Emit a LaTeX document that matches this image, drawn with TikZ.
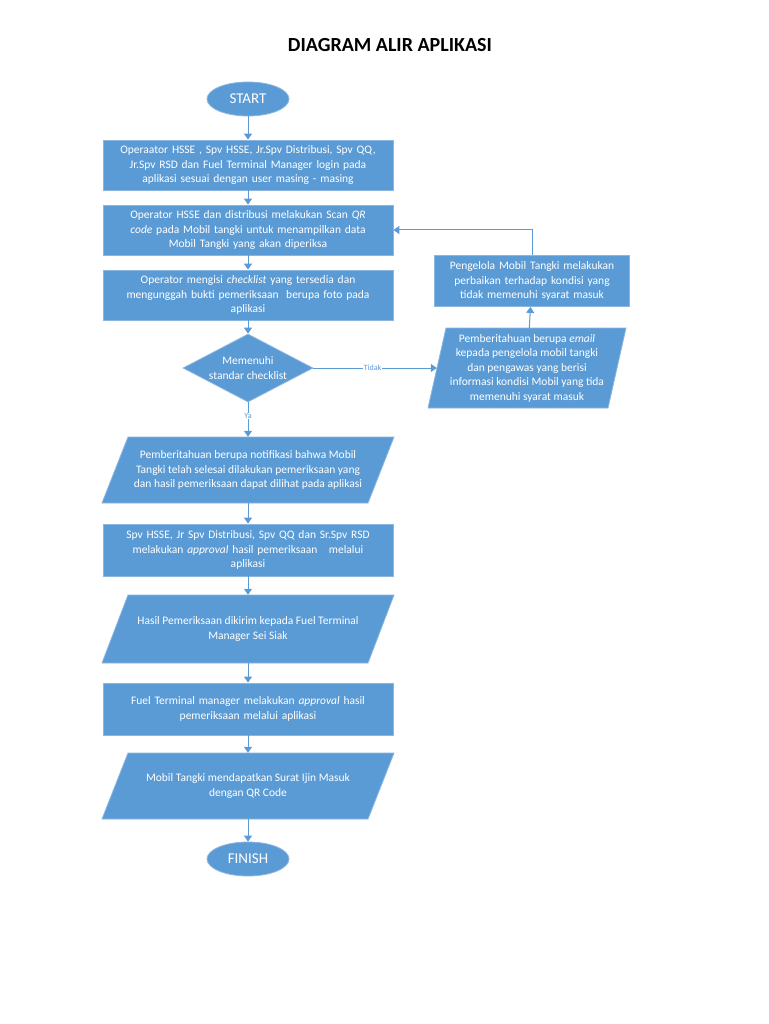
\documentclass[tikz,border=0pt]{standalone}
\usepackage{fontspec}
\setmainfont{Carlito}
\usetikzlibrary{shapes.geometric,arrows.meta}
\definecolor{bfill}{HTML}{5B9BD5}
\definecolor{bline}{HTML}{8CB6E2}
\definecolor{arr}{HTML}{5B9BD5}
\tikzset{x=1pt,y=-1pt,
 base/.style={fill=bfill,draw=bline,line width=0.8pt,text=white,font=\fontsize{11.5}{14.5}\selectfont,align=center},
 proc/.style={base,rectangle,minimum width=290pt,minimum height=50pt,text width=285pt,inner sep=1pt},
 term/.style={base,ellipse,minimum width=82pt,minimum height=34pt,font=\fontsize{15}{17}\selectfont},
 dec/.style={base,diamond,aspect=1.9,minimum width=130pt,minimum height=68pt,inner sep=0pt},
 ptext/.style={text=white,font=\fontsize{11.5}{14.5}\selectfont,align=center,inner sep=0pt},
 con/.style={draw=arr,line width=1pt,-{Triangle[length=6pt,width=8pt]}},
 lbl/.style={font=\fontsize{8}{9}\selectfont,text=arr,fill=white,inner sep=0.5pt}}
% name, cx, cy, halfwidth, halfheight, halfslant, text
\newcommand{\mypara}[7]{%
 \filldraw[fill=bfill,draw=bline,line width=0.8pt] (#2-#4+#6,#3-#5) -- (#2+#4+#6,#3-#5) -- (#2+#4-#6,#3+#5) -- (#2-#4-#6,#3+#5) -- cycle;
 \node[ptext,minimum width=2*#4,minimum height=2*#5] (#1) at (#2,#3) {#7};}
\begin{document}
\begin{tikzpicture}
\useasboundingbox (0,0) rectangle (768,1024);
\fill[white] (0,0) rectangle (768,1024);
\node[font=\bfseries\fontsize{20}{22}\selectfont] (title) at (390,45) {DIAGRAM ALIR APLIKASI};
\node[term] (start) at (248,99) {START};
\node[proc] (b1) at (248,165) {Operaator HSSE , Spv HSSE, Jr.Spv Distribusi, Spv QQ,\\ Jr.Spv RSD dan Fuel Terminal Manager login pada\\ aplikasi sesuai dengan user masing - masing};
\node[proc] (b2) at (248,230) {Operator HSSE dan distribusi melakukan Scan \textit{QR}\\ \textit{code} pada Mobil tangki untuk menampilkan data\\ Mobil Tangki yang akan diperiksa};
\node[proc] (b3) at (248,295) {Operator mengisi \textit{checklist} yang tersedia dan\\ mengunggah bukti pemeriksaan\ \ berupa foto pada\\ aplikasi};
\node[dec] (d) at (248,368) {Memenuhi\\ standar checklist};
\mypara{em}{527}{368}{90}{40}{9}{Pemberitahuan berupa \textit{email}\\ kepada pengelola mobil tangki\\ dan pengawas yang berisi\\ informasi kondisi Mobil yang tida\\ memenuhi syarat masuk}
\node[proc,minimum width=195pt,text width=192pt,minimum height=51pt] (rb) at (532,281) {Pengelola Mobil Tangki melakukan\\ perbaikan terhadap kondisi yang\\ tidak memenuhi syarat masuk};
\mypara{p1}{248}{470}{133}{33}{13}{Pemberitahuan berupa notifikasi bahwa Mobil\\ Tangki telah selesai dilakukan pemeriksaan yang\\ dan hasil pemeriksaan dapat dilihat pada aplikasi}
\node[proc,minimum height=52pt] (b4) at (248,550) {Spv HSSE, Jr Spv Distribusi, Spv QQ dan Sr.Spv RSD\\ melakukan \textit{approval} hasil pemeriksaan\ \ \ melalui\\ aplikasi};
\mypara{p2}{248}{629}{133}{34}{13}{Hasil Pemeriksaan dikirim kepada Fuel Terminal\\ Manager Sei Siak}
\node[proc,minimum height=52pt] (b5) at (248,709) {Fuel Terminal manager melakukan \textit{approval} hasil\\ pemeriksaan melalui aplikasi};
\mypara{p3}{248}{786}{133}{33}{13}{Mobil Tangki mendapatkan Surat Ijin Masuk\\ dengan QR Code}
\node[term] (fin) at (248,859) {FINISH};
\draw[con] (start) -- (b1);
\draw[con] (b1) -- (b2);
\draw[con] (b2) -- (b3);
\draw[con] (b3) -- (d);
\draw[con] (d) -- node[lbl,pos=0.48]{Tidak} (em);
\draw[con] (em) -- (rb);
\draw[con] (rb.north) |- (b2.east);
\draw[con] (d) -- node[lbl,pos=0.4]{Ya} (p1);
\draw[con] (p1) -- (b4);
\draw[con] (b4) -- (p2);
\draw[con] (p2) -- (b5);
\draw[con] (b5) -- (p3);
\draw[con] (p3) -- (fin);
\end{tikzpicture}
\end{document}
